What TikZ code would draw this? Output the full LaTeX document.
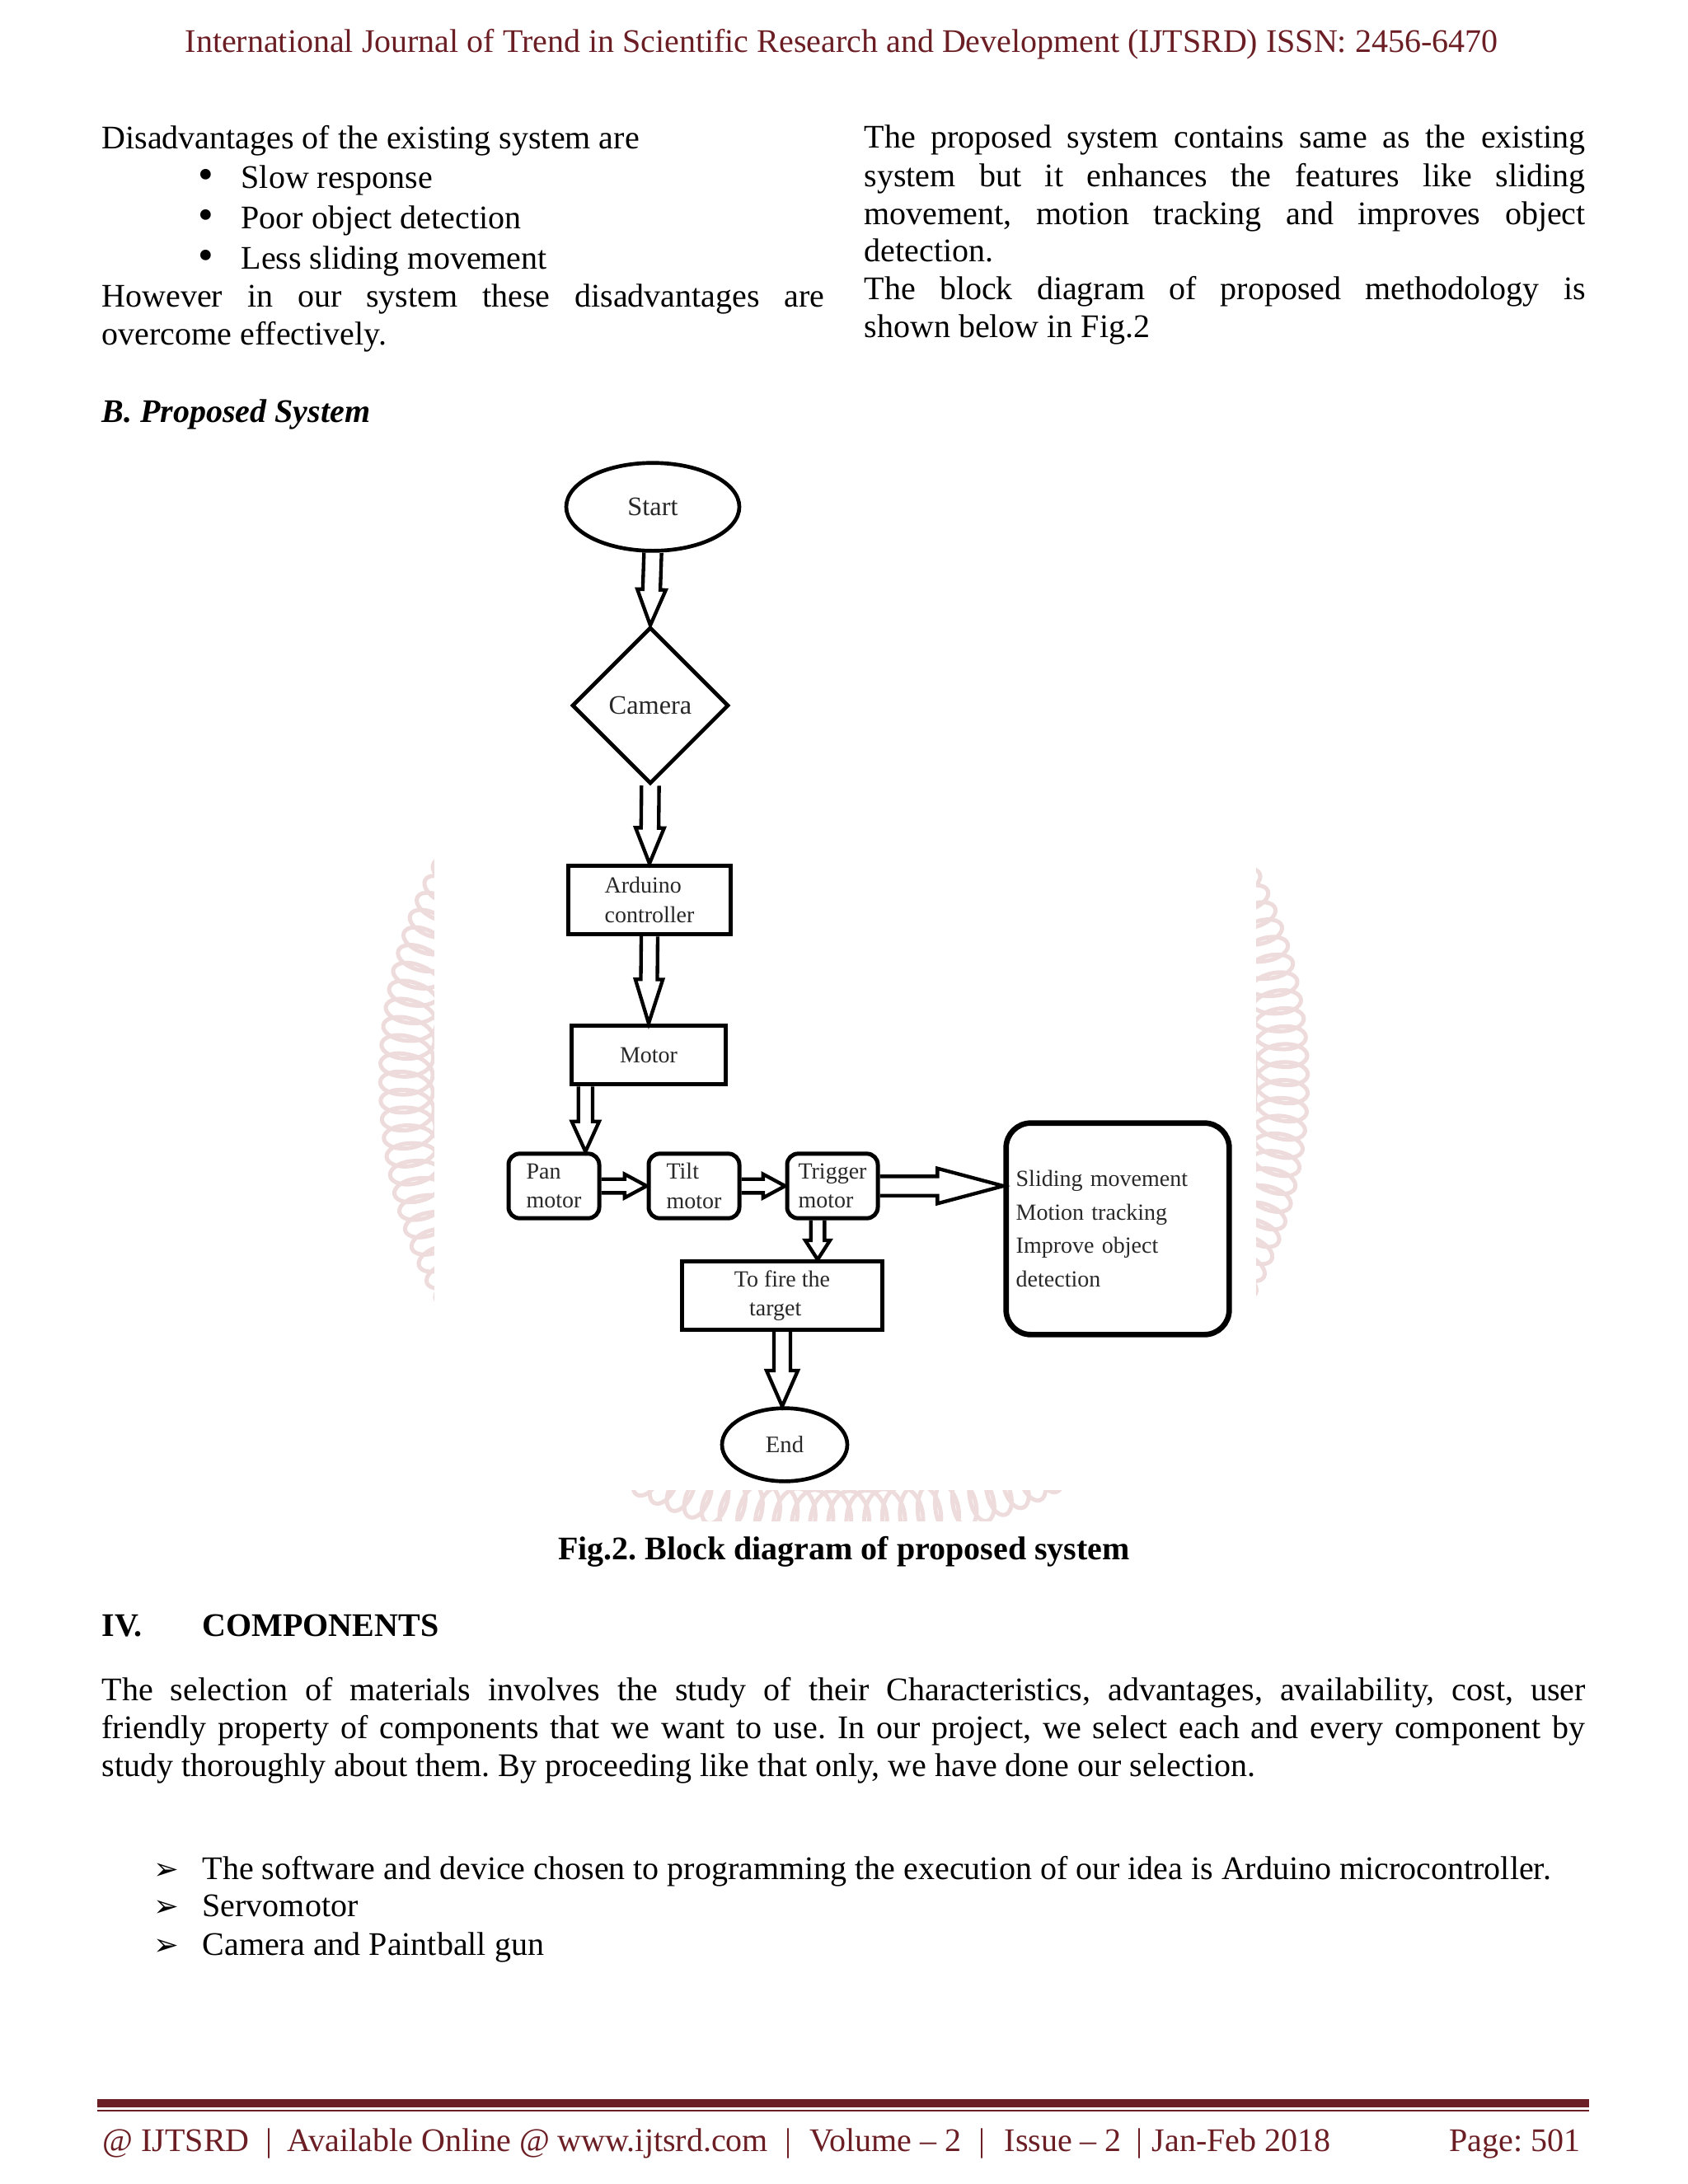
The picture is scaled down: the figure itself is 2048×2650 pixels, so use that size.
\documentclass[tikz,border=0pt]{standalone}
\usepackage{fontspec}
\setmainfont{Liberation Serif}
\newfontfamily\dejavu{DejaVu Sans}
\usetikzlibrary{shapes.geometric,calc,decorations.pathmorphing}

\definecolor{ijred}{RGB}{107,30,36}
\definecolor{ropepink}{RGB}{238,220,220}
\definecolor{ink}{RGB}{40,40,40}

% hollow block arrow: from, to, shaft half width, head half width, head length
\newcommand{\blockarrow}[5]{%
  \coordinate (ba-base) at ($(#2)!#5!(#1)$);
  \draw[blockline] ($(#1)!#3!90:(#2)$) -- ($(ba-base)!#3!90:(#2)$)
    -- ($(ba-base)!#4!90:(#2)$) -- (#2) -- ($(ba-base)!#4!-90:(#2)$)
    -- ($(ba-base)!#3!-90:(#2)$) -- ($(#1)!#3!-90:(#2)$);
}

\begin{document}
\frenchspacing
\begin{tikzpicture}[
    x=0.3pt, y=-0.3pt,
    body/.style={
        anchor=base west,
        inner sep=0pt,
        font=\fontsize{12}{14}\selectfont
    },
    dot/.style={
        body,
        font=\fontsize{16}{14}\selectfont
    },
    term/.style={
        ellipse,
        draw,
        line width=1.4pt,
        inner sep=0pt,
        text=ink,
        font=\fontsize{8.6}{10.6}\selectfont
    },
    block/.style={
        rectangle,
        draw,
        line width=1.5pt,
        inner sep=0pt,
        text=ink,
        font=\fontsize{8.4}{10.6}\selectfont
    },
    motorbox/.style={
        block,
        rounded corners=4pt,
        align=left,
        minimum width=33pt,
        minimum height=23.5pt
    },
    blockline/.style={
        draw=black,
        line width=1.3pt,
        line join=miter
    }
]

\useasboundingbox (0,0) rectangle (2048,2650);

% watermark ring behind the figure
\draw[ropepink, line width=1.5pt, decorate,
      decoration={coil, amplitude=9.5pt, segment length=6.5pt, aspect=0.6}]
    ([shift={(90:159pt)}]1024,1310) arc[start angle=90, end angle=450, radius=159pt];
\fill[white] (527,530) rectangle (1524,1808);
\fill[white] (500,1846) rectangle (1550,1930);

% running head
\node[body, anchor=base, text=ijred] (head) at (1021,63)
    {International Journal of Trend in Scientific Research and Development (IJTSRD) ISSN: 2456-6470};

% left column
\node[body] (l1) at (123,180) {Disadvantages of the existing system are};
\node[dot] (b1) at (240,229) {•};
\node[body] (l2) at (292,228) {Slow response};
\node[dot] (b2) at (240,278) {•};
\node[body] (l3) at (292,277) {Poor object detection};
\node[dot] (b3) at (240,327) {•};
\node[body] (l4) at (292,326) {Less sliding movement};
\node[body] (l5) at (123,372) {\makebox[263.1pt][s]{However in our system these disadvantages are}};
\node[body] (l6) at (123,418) {overcome effectively.};

% right column
\node[body] (r1) at (1048,179) {\makebox[262.5pt][s]{The proposed system contains same as the existing}};
\node[body] (r2) at (1048,226) {\makebox[262.5pt][s]{system but it enhances the features like sliding}};
\node[body] (r3) at (1048,272) {\makebox[262.5pt][s]{movement, motion tracking and improves object}};
\node[body] (r4) at (1048,317) {detection.};
\node[body] (r5) at (1048,363) {\makebox[262.5pt][s]{The block diagram of proposed methodology is}};
\node[body] (r6) at (1048,409) {shown below in Fig.2};

\node[body, font=\fontsize{12}{14}\selectfont\bfseries\itshape] (sec) at (123,512) {B. Proposed System};

% flow chart
\node[term, minimum width=63pt, minimum height=32pt, font=\fontsize{9.7}{11}\selectfont] (start) at (792,615) {Start};
\node[diamond, draw, line width=1.4pt, inner sep=0pt, minimum width=57pt, minimum height=57pt,
      text=ink, font=\fontsize{9.7}{11}\selectfont] (camera) at (789,856) {Camera};
\node[block, align=left, minimum width=59pt, minimum height=25pt] (arduino) at (788,1092) {Arduino\\controller};
\node[block, minimum width=56pt, minimum height=21.5pt] (motor) at (787,1280) {Motor};
\node[motorbox] (pan) at (672,1439) {Pan\\motor};
\node[motorbox] (tilt) at (842,1439) {Tilt\\motor};
\node[motorbox] (trigger) at (1010,1439) {Trigger\\motor};
\node[block, line width=2pt, rounded corners=9pt, align=left, text width=74pt, inner xsep=3.6pt,
      minimum height=77pt, font=\fontsize{8.4}{12.2}\selectfont] (result) at (1356,1491)
    {Sliding movement\\Motion tracking\\Improve object\\detection};
\node[block, align=center, minimum width=73pt, minimum height=24.7pt] (fire) at (949,1572)
    {To fire the\\target\hspace*{5pt}};
\node[term, minimum width=45.6pt, minimum height=26.6pt] (end) at (952,1753) {End};

\blockarrow{start.south}{camera.north}{3.2pt}{5.2pt}{13pt}
\blockarrow{camera.south}{arduino.north}{3.2pt}{5.2pt}{13pt}
\blockarrow{arduino.south}{motor.north}{3pt}{5pt}{16pt}
\coordinate (mp-top) at ($(motor.south west)!0.1!(motor.south east)$);
\coordinate (mp-bot) at (mp-top |- pan.north);
\blockarrow{mp-top}{mp-bot}{2.6pt}{5pt}{11pt}
\blockarrow{pan.east}{tilt.west}{2.5pt}{4.3pt}{8pt}
\blockarrow{tilt.east}{trigger.west}{2.5pt}{4.3pt}{8pt}
\coordinate (res-in) at (trigger.east -| result.west);
\blockarrow{trigger.east}{res-in}{3.5pt}{6.4pt}{24pt}
\coordinate (tf-top) at ([xshift=-5.4pt]trigger.south);
\coordinate (tf-bot) at (tf-top |- fire.north);
\blockarrow{tf-top}{tf-bot}{2.5pt}{4.5pt}{7pt}
\coordinate (fe-bot) at (fire.south |- end.north);
\blockarrow{fire.south}{fe-bot}{3pt}{5.7pt}{13pt}

\node[body, anchor=base, font=\fontsize{12}{14}\selectfont\bfseries] (caption) at (1024,1892)
    {Fig.2. Block diagram of proposed system};

% components section
\node[body, font=\fontsize{12}{14}\selectfont\bfseries] (secnum) at (123,1985) {IV.};
\node[body, font=\fontsize{12}{14}\selectfont\bfseries] (sectitle) at (245,1985) {COMPONENTS};
\node[body] (p1) at (123,2063) {\makebox[540pt][s]{The selection of materials involves the study of their Characteristics, advantages, availability, cost, user}};
\node[body] (p2) at (123,2109) {\makebox[540pt][s]{friendly property of components that we want to use. In our project, we select each and every component by}};
\node[body] (p3) at (123,2155) {study thoroughly about them. By proceeding like that only, we have done our selection.};
\node[body, font=\fontsize{11}{14}\dejavu] (a1) at (186,2280) {➢};
\node[body] (c1) at (245,2280) {The software and device chosen to programming the execution of our idea is Arduino microcontroller.};
\node[body, font=\fontsize{11}{14}\dejavu] (a2) at (186,2325) {➢};
\node[body] (c2) at (245,2325) {Servomotor};
\node[body, font=\fontsize{11}{14}\dejavu] (a3) at (186,2372) {➢};
\node[body] (c3) at (245,2372) {Camera and Paintball gun};

% footer
\draw[ijred, line width=3pt] (118,2552) -- (1928,2552);
\draw[ijred, line width=0.8pt] (118,2561) -- (1928,2561);
\node[body, text=ijred] (f1) at (124,2610) {@ IJTSRD};
\node[body, text=ijred] (f2) at (322,2610) {|};
\node[body, text=ijred] (f3) at (348,2610) {Available Online @ www.ijtsrd.com};
\node[body, text=ijred] (f4) at (952,2610) {|};
\node[body, text=ijred] (f5) at (982,2610) {Volume – 2};
\node[body, text=ijred] (f6) at (1187,2610) {|};
\node[body, text=ijred] (f7) at (1218,2610) {Issue – 2};
\node[body, text=ijred] (f8) at (1378,2610) {|};
\node[body, text=ijred] (f9) at (1397,2610) {Jan-Feb 2018};
\node[body, anchor=base east, text=ijred] (f10) at (1918,2610) {Page: 501};

\end{tikzpicture}
\end{document}
